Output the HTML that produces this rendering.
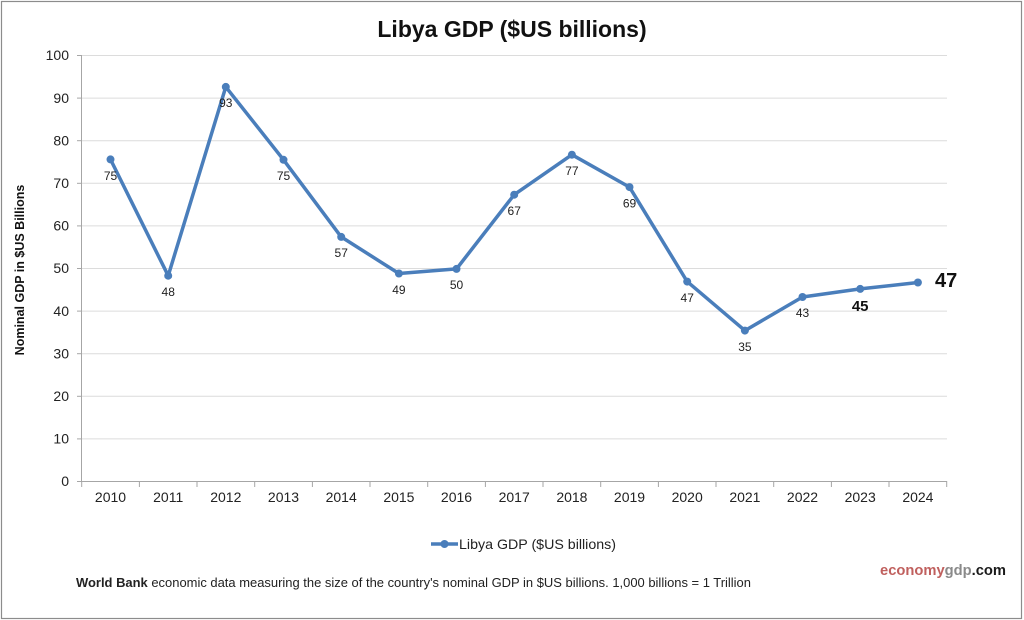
<!DOCTYPE html>
<html><head><meta charset="utf-8"><style>
html,body{margin:0;padding:0;background:#fff;}
svg{display:block;font-family:"Liberation Sans",Arial,sans-serif;}
</style></head><body>
<svg width="1024" height="620" viewBox="0 0 1024 620" xmlns="http://www.w3.org/2000/svg">
<rect x="0" y="0" width="1024" height="620" fill="#fff"/>
<rect x="1.5" y="1.5" width="1020" height="617" fill="none" stroke="#8c8c8c" stroke-width="1.2"/>
<text x="512" y="37" font-size="23" font-weight="bold" text-anchor="middle" fill="#111">Libya GDP ($US billions)</text>
<!-- gridlines -->
<g stroke="#dcdcdc" stroke-width="1">
<line x1="81" y1="55.5" x2="947" y2="55.5"/>
<line x1="81" y1="98.1" x2="947" y2="98.1"/>
<line x1="81" y1="140.7" x2="947" y2="140.7"/>
<line x1="81" y1="183.3" x2="947" y2="183.3"/>
<line x1="81" y1="225.9" x2="947" y2="225.9"/>
<line x1="81" y1="268.5" x2="947" y2="268.5"/>
<line x1="81" y1="311.1" x2="947" y2="311.1"/>
<line x1="81" y1="353.7" x2="947" y2="353.7"/>
<line x1="81" y1="396.3" x2="947" y2="396.3"/>
<line x1="81" y1="438.9" x2="947" y2="438.9"/>
</g>
<!-- axes -->
<g stroke="#a6a6a6" stroke-width="1">
<line x1="81.5" y1="55" x2="81.5" y2="481.5"/>
<line x1="81" y1="481.5" x2="947" y2="481.5"/>
<line x1="77" y1="55.5" x2="81" y2="55.5"/>
<line x1="77" y1="98.1" x2="81" y2="98.1"/>
<line x1="77" y1="140.7" x2="81" y2="140.7"/>
<line x1="77" y1="183.3" x2="81" y2="183.3"/>
<line x1="77" y1="225.9" x2="81" y2="225.9"/>
<line x1="77" y1="268.5" x2="81" y2="268.5"/>
<line x1="77" y1="311.1" x2="81" y2="311.1"/>
<line x1="77" y1="353.7" x2="81" y2="353.7"/>
<line x1="77" y1="396.3" x2="81" y2="396.3"/>
<line x1="77" y1="438.9" x2="81" y2="438.9"/>
<line x1="77" y1="481.5" x2="81" y2="481.5"/>
<line x1="81.7" y1="481" x2="81.7" y2="487"/>
<line x1="139.4" y1="481" x2="139.4" y2="487"/>
<line x1="197.0" y1="481" x2="197.0" y2="487"/>
<line x1="254.7" y1="481" x2="254.7" y2="487"/>
<line x1="312.4" y1="481" x2="312.4" y2="487"/>
<line x1="370.0" y1="481" x2="370.0" y2="487"/>
<line x1="427.7" y1="481" x2="427.7" y2="487"/>
<line x1="485.4" y1="481" x2="485.4" y2="487"/>
<line x1="543.0" y1="481" x2="543.0" y2="487"/>
<line x1="600.7" y1="481" x2="600.7" y2="487"/>
<line x1="658.4" y1="481" x2="658.4" y2="487"/>
<line x1="716.0" y1="481" x2="716.0" y2="487"/>
<line x1="773.7" y1="481" x2="773.7" y2="487"/>
<line x1="831.4" y1="481" x2="831.4" y2="487"/>
<line x1="889.0" y1="481" x2="889.0" y2="487"/>
<line x1="946.7" y1="481" x2="946.7" y2="487"/>
</g>
<!-- y tick labels -->
<g font-size="14" fill="#222" text-anchor="end">
<text x="69" y="60">100</text>
<text x="69" y="103">90</text>
<text x="69" y="145.5">80</text>
<text x="69" y="188">70</text>
<text x="69" y="230.5">60</text>
<text x="69" y="273">50</text>
<text x="69" y="316">40</text>
<text x="69" y="358.5">30</text>
<text x="69" y="401">20</text>
<text x="69" y="443.5">10</text>
<text x="69" y="486">0</text>
</g>
<!-- x labels -->
<g font-size="14" fill="#222" text-anchor="middle">
<text x="110.5" y="502">2010</text>
<text x="168.2" y="502">2011</text>
<text x="225.8" y="502">2012</text>
<text x="283.5" y="502">2013</text>
<text x="341.2" y="502">2014</text>
<text x="398.9" y="502">2015</text>
<text x="456.5" y="502">2016</text>
<text x="514.2" y="502">2017</text>
<text x="571.9" y="502">2018</text>
<text x="629.5" y="502">2019</text>
<text x="687.2" y="502">2020</text>
<text x="744.9" y="502">2021</text>
<text x="802.5" y="502">2022</text>
<text x="860.2" y="502">2023</text>
<text x="917.9" y="502">2024</text>
</g>
<text transform="translate(24,270) rotate(-90)" font-size="12.5" font-weight="bold" fill="#111" text-anchor="middle">Nominal GDP in $US Billions</text>
<!-- series -->
<polyline fill="none" stroke="#4a7ebb" stroke-width="3.5" stroke-linejoin="round" points="110.5,159.4 168.2,275.7 225.8,86.9 283.5,159.8 341.2,236.9 398.9,273.5 456.5,268.9 514.2,194.7 571.9,154.7 629.5,187.1 687.2,281.6 744.9,330.6 802.5,297 860.2,288.9 917.9,282.5"/>
<g fill="#4a7ebb">
<circle cx="110.5" cy="159.4" r="4"/>
<circle cx="168.2" cy="275.7" r="4"/>
<circle cx="225.8" cy="86.9" r="4"/>
<circle cx="283.5" cy="159.8" r="4"/>
<circle cx="341.2" cy="236.9" r="4"/>
<circle cx="398.9" cy="273.5" r="4"/>
<circle cx="456.5" cy="268.9" r="4"/>
<circle cx="514.2" cy="194.7" r="4"/>
<circle cx="571.9" cy="154.7" r="4"/>
<circle cx="629.5" cy="187.1" r="4"/>
<circle cx="687.2" cy="281.6" r="4"/>
<circle cx="744.9" cy="330.6" r="4"/>
<circle cx="802.5" cy="297" r="4"/>
<circle cx="860.2" cy="288.9" r="4"/>
<circle cx="917.9" cy="282.5" r="4"/>
</g>
<!-- data labels -->
<g font-size="12" fill="#222" text-anchor="middle">
<text x="110.5" y="180">75</text>
<text x="168.2" y="296">48</text>
<text x="225.8" y="107">93</text>
<text x="283.5" y="180">75</text>
<text x="341.2" y="257">57</text>
<text x="398.9" y="294">49</text>
<text x="456.5" y="289">50</text>
<text x="514.2" y="215">67</text>
<text x="571.9" y="175">77</text>
<text x="629.5" y="207.5">69</text>
<text x="687.2" y="302">47</text>
<text x="744.9" y="351">35</text>
<text x="802.5" y="317">43</text>
</g>
<text x="860.2" y="311" font-size="15" font-weight="bold" fill="#111" text-anchor="middle">45</text>
<text x="935" y="287" font-size="20" font-weight="bold" fill="#111">47</text>
<!-- legend -->
<line x1="431" y1="544" x2="458" y2="544" stroke="#4a7ebb" stroke-width="3.5"/>
<circle cx="444.5" cy="544" r="4" fill="#4a7ebb"/>
<text x="459" y="549" font-size="14" fill="#222" textLength="157" lengthAdjust="spacingAndGlyphs">Libya GDP ($US billions)</text>
<!-- footer -->
<text x="76" y="587" font-size="12.5" fill="#222" textLength="675" lengthAdjust="spacingAndGlyphs"><tspan font-weight="bold">World Bank</tspan> economic data  measuring the size of the country's nominal GDP in $US billions. 1,000 billions = 1 Trillion</text>
<text x="880" y="575" font-size="15" font-weight="bold" textLength="126" lengthAdjust="spacingAndGlyphs"><tspan fill="#c0605e">economy</tspan><tspan fill="#8a8a8a">gdp</tspan><tspan fill="#1a1a1a">.com</tspan></text>
</svg>
</body></html>
